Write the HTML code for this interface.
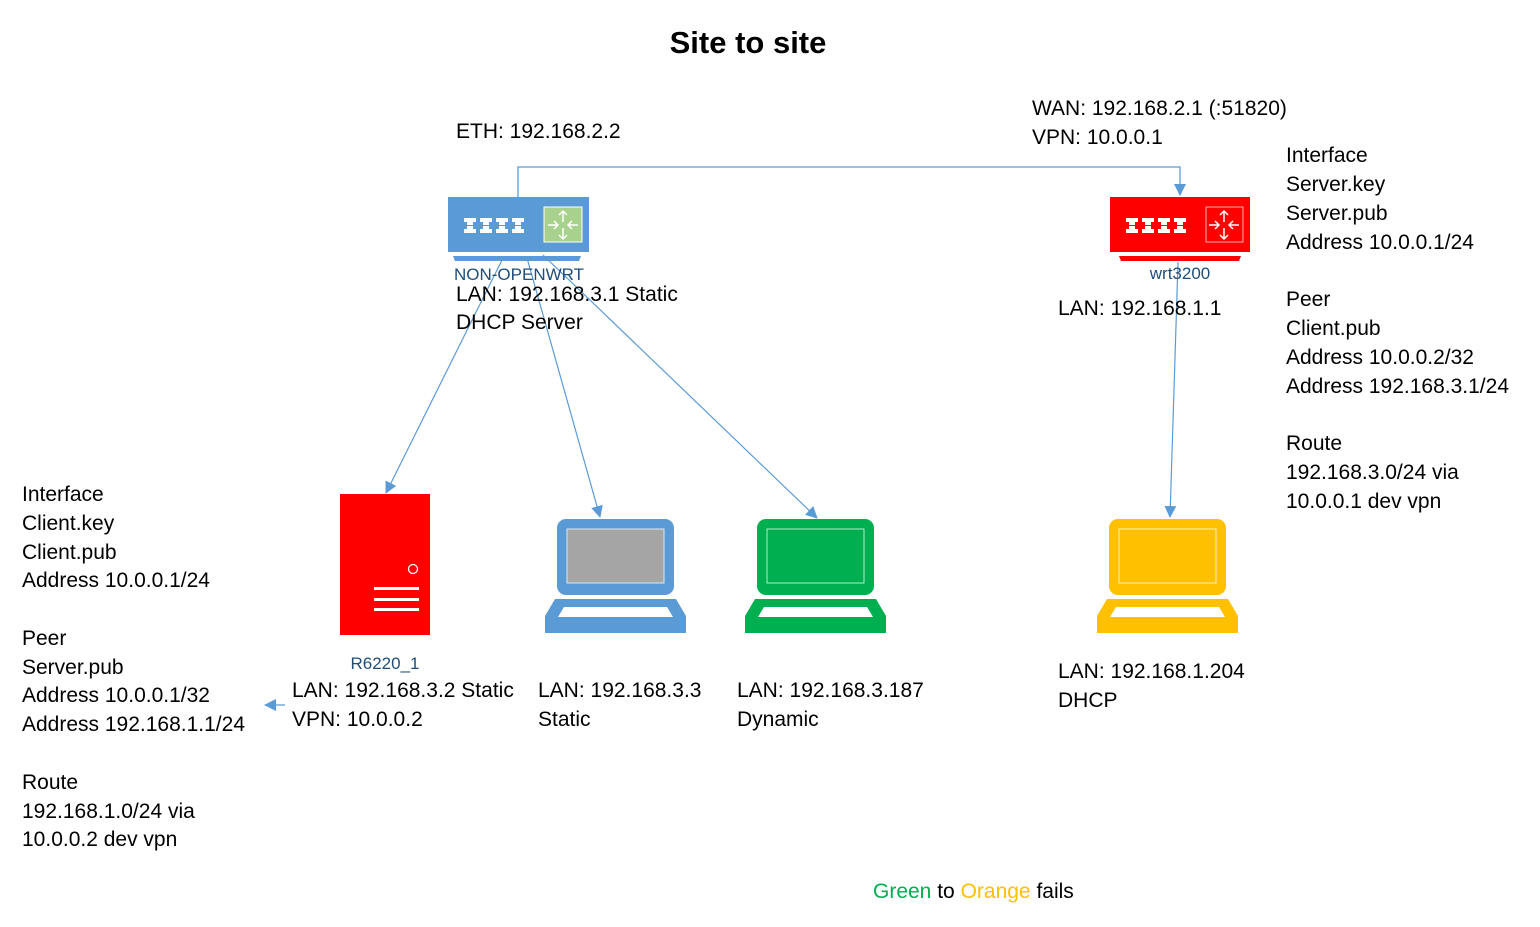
<!DOCTYPE html>
<html><head><meta charset="utf-8"><style>
html,body{margin:0;padding:0;background:#fff;}
svg{display:block;}
text{font-family:"Liberation Sans",sans-serif;font-size:21px;fill:#000;}
.b{fill:#1f4e79;font-size:17px;}
</style></head><body>
<svg width="1540" height="927" viewBox="0 0 1540 927" xmlns="http://www.w3.org/2000/svg">
<defs>
<marker id="ar" markerWidth="14" markerHeight="14" refX="11" refY="6" orient="auto" markerUnits="userSpaceOnUse">
<path d="M0,0 L12,6 L0,12 z" fill="#5b9bd5"/></marker>
<g id="lap">
<rect x="12" y="0" width="117" height="76" rx="9"/>
<polygon points="10,80 131,80 141,97 141,114 0,114 0,97"/>
<polygon points="19,88 122,88 128,98 13,98" fill="#fff"/>
</g>
<g id="ports" fill="#fff">
<rect x="0" y="0" width="12" height="4"/><rect x="3" y="4" width="6" height="3"/>
<rect x="16" y="0" width="12" height="4"/><rect x="19" y="4" width="6" height="3"/>
<rect x="32" y="0" width="12" height="4"/><rect x="35" y="4" width="6" height="3"/>
<rect x="48" y="0" width="12" height="4"/><rect x="51" y="4" width="6" height="3"/>
<rect x="0" y="11" width="12" height="4"/><rect x="3" y="8" width="6" height="3"/>
<rect x="16" y="11" width="12" height="4"/><rect x="19" y="8" width="6" height="3"/>
<rect x="32" y="11" width="12" height="4"/><rect x="35" y="8" width="6" height="3"/>
<rect x="48" y="11" width="12" height="4"/><rect x="51" y="8" width="6" height="3"/>
</g>
<g id="rt" stroke="#fff" stroke-width="1.5" fill="none">
<line x1="19" y1="5" x2="19" y2="16"/><path d="M15,9 L19,5 L23,9"/>
<line x1="19" y1="22" x2="19" y2="33"/><path d="M15,29 L19,33 L23,29"/>
<line x1="4" y1="19" x2="14" y2="19"/><path d="M10,15 L14,19 L10,23"/>
<line x1="24" y1="19" x2="34" y2="19"/><path d="M28,15 L24,19 L28,23"/>
</g>
</defs>

<text x="748" y="53" text-anchor="middle" style="font-size:31px;font-weight:bold">Site to site</text>

<polyline points="518,197 518,167 1180,167 1180,195" fill="none" stroke="#5b9bd5" stroke-width="1.3" marker-end="url(#ar)"/>

<rect x="448" y="197" width="141" height="55" fill="#5b9bd5"/>
<polygon points="453,256 581,256 579,261 455,261" fill="#5b9bd5"/>
<use href="#ports" x="464" y="218"/>
<rect x="544" y="207" width="38" height="35" fill="#a9d18e" stroke="#fff" stroke-width="1"/>
<use href="#rt" x="544" y="206"/>

<rect x="1110" y="197" width="140" height="55" fill="#ff0000"/>
<polygon points="1119,256 1241,256 1239,261 1121,261" fill="#ff0000"/>
<use href="#ports" x="1126" y="218"/>
<rect x="1206" y="207" width="37" height="35" fill="none" stroke="#ffb0b0" stroke-width="1"/>
<use href="#rt" x="1205" y="206"/>

<g stroke="#5b9bd5" stroke-width="1.2" fill="none" marker-end="url(#ar)">
<line x1="502" y1="260" x2="386" y2="493"/>
<line x1="527" y1="258" x2="600" y2="517"/>
<line x1="543" y1="255" x2="817" y2="518"/>
<line x1="1178" y1="262" x2="1170" y2="517"/>
<line x1="285" y1="705" x2="265" y2="705"/>
</g>

<rect x="340" y="494" width="90" height="141" fill="#ff0000"/>
<circle cx="413" cy="569" r="4.5" fill="none" stroke="#fff" stroke-width="1.3"/>
<g fill="#fff"><rect x="374" y="587" width="45" height="3"/><rect x="374" y="598" width="45" height="3"/><rect x="374" y="608" width="45" height="3"/></g>

<use href="#lap" x="545" y="519" fill="#5b9bd5"/>
<rect x="567" y="529" width="97" height="54" fill="#a5a5a5" stroke="#d9e6f3" stroke-width="1"/>
<use href="#lap" x="745" y="519" fill="#00b050"/>
<rect x="767" y="529" width="97" height="54" fill="none" stroke="#b5ecc8" stroke-width="1"/>
<use href="#lap" x="1097" y="519" fill="#ffc000"/>
<rect x="1119" y="529" width="97" height="54" fill="none" stroke="#fff0c0" stroke-width="1"/>

<text x="456" y="138">ETH: 192.168.2.2</text>
<text x="1032" y="115">WAN: 192.168.2.1 (:51820)</text>
<text x="1032" y="144">VPN: 10.0.0.1</text>
<text class="b" x="519" y="280" text-anchor="middle">NON-OPENWRT</text>
<text class="b" x="1180" y="279" text-anchor="middle">wrt3200</text>
<text x="456" y="301">LAN: 192.168.3.1 Static</text>
<text x="456" y="329">DHCP Server</text>
<text x="1058" y="315">LAN: 192.168.1.1</text>

<text x="1286" y="162">Interface</text>
<text x="1286" y="191">Server.key</text>
<text x="1286" y="220">Server.pub</text>
<text x="1286" y="249">Address 10.0.0.1/24</text>
<text x="1286" y="306">Peer</text>
<text x="1286" y="335">Client.pub</text>
<text x="1286" y="364">Address 10.0.0.2/32</text>
<text x="1286" y="393">Address 192.168.3.1/24</text>
<text x="1286" y="450">Route</text>
<text x="1286" y="479">192.168.3.0/24 via</text>
<text x="1286" y="508">10.0.0.1 dev vpn</text>

<text x="22" y="501">Interface</text>
<text x="22" y="530">Client.key</text>
<text x="22" y="559">Client.pub</text>
<text x="22" y="587">Address 10.0.0.1/24</text>
<text x="22" y="645">Peer</text>
<text x="22" y="674">Server.pub</text>
<text x="22" y="702">Address 10.0.0.1/32</text>
<text x="22" y="731">Address 192.168.1.1/24</text>
<text x="22" y="789">Route</text>
<text x="22" y="818">192.168.1.0/24 via</text>
<text x="22" y="846">10.0.0.2 dev vpn</text>

<text class="b" x="385" y="669" text-anchor="middle">R6220_1</text>
<text x="292" y="697">LAN: 192.168.3.2 Static</text>
<text x="292" y="726">VPN: 10.0.0.2</text>
<text x="538" y="697">LAN: 192.168.3.3</text>
<text x="538" y="726">Static</text>
<text x="737" y="697">LAN: 192.168.3.187</text>
<text x="737" y="726">Dynamic</text>
<text x="1058" y="678">LAN: 192.168.1.204</text>
<text x="1058" y="707">DHCP</text>

<text x="873" y="898"><tspan fill="#00b050">Green</tspan> to <tspan fill="#ffc000">Orange</tspan> fails</text>
</svg>
</body></html>
